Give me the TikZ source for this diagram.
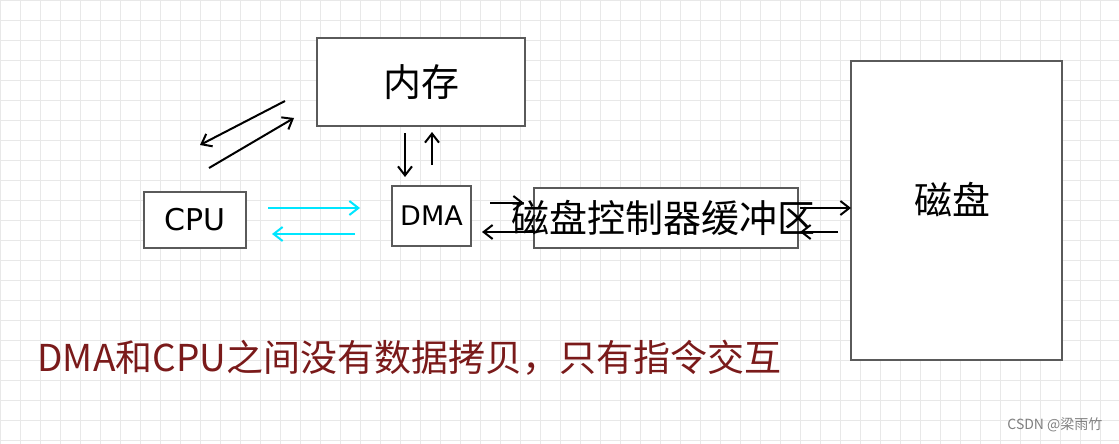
\documentclass[tikz,border=0pt]{standalone}
\usepackage{fontspec}
\setmainfont{DejaVu Sans}
\newfontfamily\cjk{Noto Sans CJK SC}
\usetikzlibrary{arrows.meta}
\definecolor{gridc}{RGB}{232,232,232}
\definecolor{boxc}{RGB}{90,90,90}
\definecolor{redc}{RGB}{122,26,26}
\definecolor{cyanc}{RGB}{0,230,255}
\tikzset{box/.style={draw=boxc,line width=1.8pt,fill=white},
 arr/.style={-{Straight Barb[length=9pt,width=14pt,line width=2pt]},line width=2pt},
 lbl/.style={font=\cjk\fontsize{38}{40}\selectfont}}
\begin{document}
\begin{tikzpicture}[x=1pt,y=-1pt]
\useasboundingbox (0,0) rectangle (1119,444);
\fill[white] (0,0) rectangle (1119,444);
\foreach \i in {0,20,...,1120} \draw[gridc,line width=0.6pt] (\i,0) -- (\i,444);
\foreach \j in {0,20,...,440} \draw[gridc,line width=0.6pt] (0,\j) -- (1119,\j);
\node[box,minimum width=208,minimum height=88,lbl] (mem) at (421,82) {内存};
\node[box,minimum width=102,minimum height=56,font=\fontsize{30}{32}\selectfont] (cpu) at (195,220) {CPU};
\node[box,minimum width=79,minimum height=60,inner sep=0,font=\fontsize{27}{29}\selectfont] (dma) at (431.5,216) {DMA};
\node[box,minimum width=264,minimum height=60,inner sep=0] (ctl) at (666,218) {};
\node[lbl] (ctlt) at (663,218) {磁盘控制器缓冲区};
\node[box,minimum width=211,minimum height=299] (disk) at (956.5,210.5) {};
\node[lbl] (diskt) at (952,200) {磁盘};
\coordinate (a1) at (285,101); \coordinate (a2) at (200,145);
\coordinate (b1) at (209,168); \coordinate (b2) at (294,118);
\draw[arr] (a1) -- (a2); \draw[arr] (b1) -- (b2);
\draw[arr] (405,133) -- (405,177);
\draw[arr] (432,165) -- (432,132);
\draw[arr,cyanc] (268,208) -- (360,208);
\draw[arr,cyanc] (355,234) -- (272,234);
\draw[arr] (490,203) -- (524,203);
\draw[arr] (536,232) -- (482,232);
\draw[arr] (800,208) -- (851,208);
\draw[arr] (838,232) -- (800,232);
\node[anchor=west,text=redc,font=\cjk\fontsize{37}{39}\selectfont] (note) at (34,358) {DMA和CPU之间没有数据拷贝，只有指令交互};
\node[anchor=east,text=gray,font=\cjk\fontsize{14}{16}\selectfont] (wm) at (1106,425) {CSDN @梁雨竹};
\end{tikzpicture}
\end{document}
